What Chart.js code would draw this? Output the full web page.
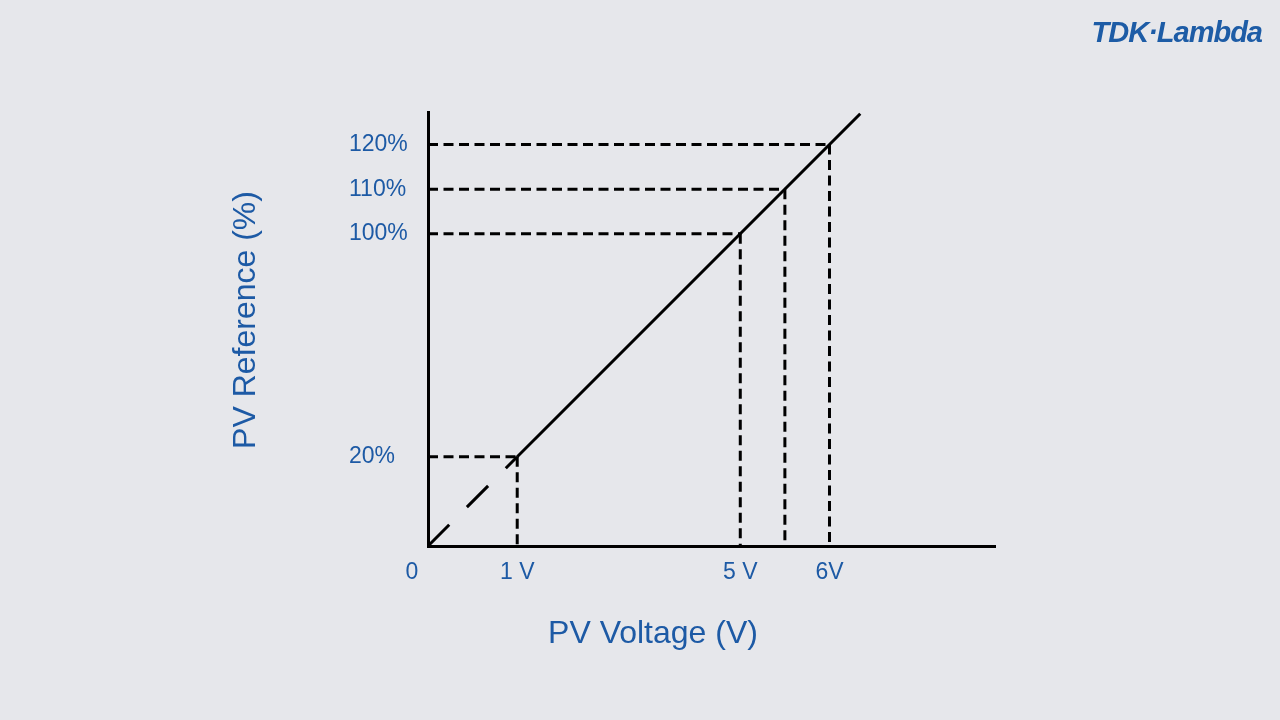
<!DOCTYPE html>
<html>
<head>
<meta charset="utf-8">
<title>PV Reference vs PV Voltage</title>
<script src="https://cdn.jsdelivr.net/npm/chart.js@4/dist/chart.umd.min.js"></script>
<style>
  html, body { margin: 0; padding: 0; background: #e6e7eb; }
  #wrap { position: relative; width: 1280px; height: 720px; overflow: hidden; background: #e6e7eb; }
  #c { position: absolute; left: 0; top: 0; }
  #logo {
    position: absolute; right: 18px; top: 13px;
    font-family: "Liberation Sans", Arial, sans-serif;
    font-weight: bold; font-style: italic; font-size: 29px;
    letter-spacing: -1px; color: #1d5ca6; line-height: 38px;
  }
</style>
</head>
<body>
<div id="wrap">
  <canvas id="c" width="1280" height="720"></canvas>
  <div id="logo">TDK·Lambda</div>
</div>
<script>
// ---- data (schematic axis units: the drawing places the marked points on a regular grid) ----
const xTitle = 'PV Voltage (V)';
const yTitle = 'PV Reference (%)';

const xTickValues = [0, 2, 7, 9];
const xTickLabels = ['0\u2007\u2007 ', '1 V', '5 V', '6V'];

const yTickValues = [2, 7, 8, 9];
const yTickLabels = ['20%', '100%', '110%', '120%'];

// operating points (voltage position, reference position): 1V-20%, 5V-100%, 5.5V-110%, 6V-120%
const markVoltage   = [2, 7, 8, 9];
const markReference = [2, 7, 8, 9];

// characteristic line: dashed below the 1 V point, solid above it
const lowSegmentX  = [0, 2];
const lowSegmentY  = [0, 2];
const highSegmentX = [2, 9.69];
const highSegmentY = [2, 9.69];

const xMax = 12.71;
const yMax = 9.73;

// ---- styles ----
const BLUE = '#1d5aa5';
const BLACK = '#000000';
Chart.defaults.font.family = '"Liberation Sans", Arial, Helvetica, sans-serif';

const toPts = (xs, ys) => xs.map((x, i) => ({ x: x, y: ys[i] }));

const datasets = [];
datasets.push({
  data: toPts(highSegmentX, highSegmentY),
  borderColor: BLACK, borderWidth: 3, showLine: true, pointRadius: 0, borderCapStyle: 'butt'
});
datasets.push({
  data: toPts(lowSegmentX, lowSegmentY),
  borderColor: BLACK, borderWidth: 3, showLine: true, pointRadius: 0,
  borderDash: [30, 25], borderCapStyle: 'butt'
});
markVoltage.forEach((v, i) => {
  const r = markReference[i];
  datasets.push({
    data: [{ x: 0, y: r }, { x: v, y: r }],
    borderColor: BLACK, borderWidth: 3, showLine: true, pointRadius: 0,
    borderDash: [10, 5.5], borderCapStyle: 'butt'
  });
  datasets.push({
    data: [{ x: v, y: r }, { x: v, y: 0 }],
    borderColor: BLACK, borderWidth: 3, showLine: true, pointRadius: 0,
    borderDash: [10, 5.5], borderCapStyle: 'butt'
  });
});

const axisTitles = {
  id: 'axisTitles',
  afterDraw(chart) {
    const ctx = chart.ctx;
    const a = chart.chartArea;
    ctx.save();
    ctx.fillStyle = BLUE;
    ctx.font = '32px "Liberation Sans", Arial, Helvetica, sans-serif';
    ctx.textAlign = 'center';
    ctx.textBaseline = 'middle';
    ctx.fillText(xTitle, a.left + 225, a.bottom + 88);
    ctx.translate(a.left - 182, a.top + 208);
    ctx.rotate(-Math.PI / 2);
    ctx.fillText(yTitle, 0, 0);
    ctx.restore();
  }
};

new Chart(document.getElementById('c'), {
  type: 'scatter',
  data: { datasets: datasets },
  plugins: [axisTitles],
  options: {
    responsive: false,
    animation: false,
    devicePixelRatio: 1,
    layout: { padding: { left: 349, right: 285, top: 112, bottom: 134 } },
    plugins: { legend: { display: false }, tooltip: { enabled: false } },
    elements: { line: { tension: 0 } },
    scales: {
      x: {
        type: 'linear', min: 0, max: xMax,
        grid: { display: false, drawTicks: false },
        border: { display: true, color: BLACK, width: 3 },
        afterFit: (s) => { s.height = 40; },
        afterBuildTicks: (s) => { s.ticks = xTickValues.map(v => ({ value: v })); },
        ticks: {
          autoSkip: false, maxRotation: 0, padding: 13, color: BLUE,
          font: { size: 23 },
          callback: (v, i) => xTickLabels[i]
        }
      },
      y: {
        type: 'linear', min: 0, max: yMax,
        grid: { display: false, drawTicks: false },
        border: { display: true, color: BLACK, width: 3 },
        afterFit: (s) => { s.width = 79; },
        afterBuildTicks: (s) => { s.ticks = yTickValues.map(v => ({ value: v })); },
        ticks: {
          autoSkip: false, crossAlign: 'far', color: BLUE,
          font: { size: 23 },
          callback: (v, i) => yTickLabels[i]
        }
      }
    }
  }
});
</script>
</body>
</html>
